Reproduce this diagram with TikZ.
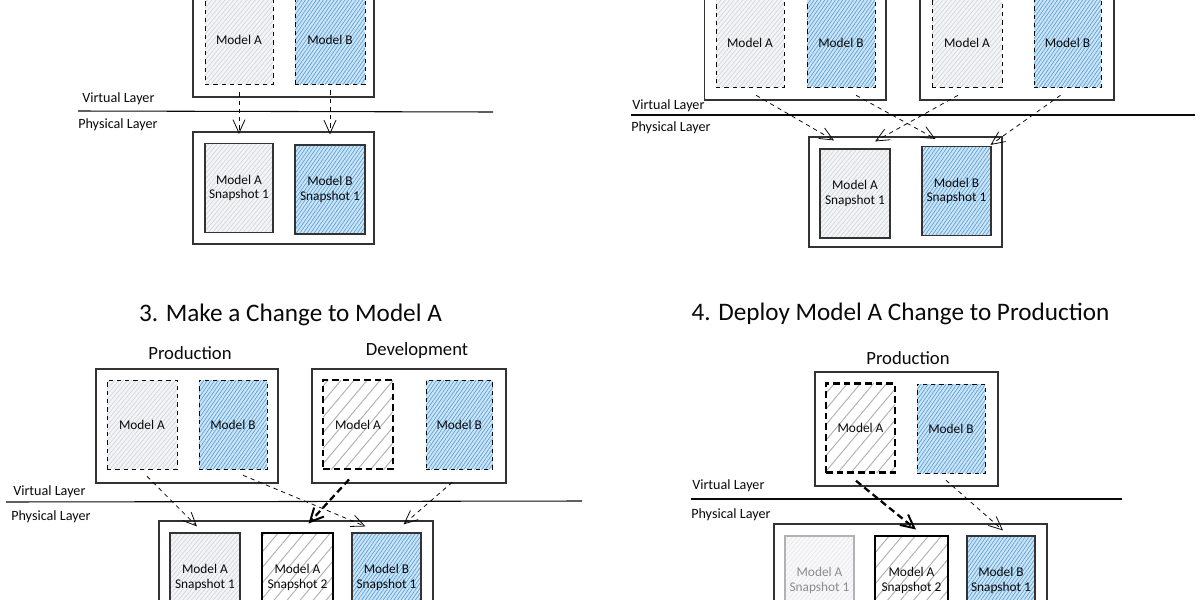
\documentclass[tikz,border=0pt]{standalone}
\usepackage{fontspec}
\setmainfont{Carlito}
\usetikzlibrary{arrows.meta,patterns.meta}
\definecolor{ink}{HTML}{0A0A0A}
\definecolor{edge}{HTML}{333333}
\definecolor{grayfill}{HTML}{F3F4F6}
\definecolor{grayhatch}{HTML}{CDD1D6}
\definecolor{bluefill}{HTML}{CFE5F6}
\definecolor{bluehatch}{HTML}{5AA5DE}
\definecolor{sparsehatch}{HTML}{B0B0B0}
\tikzset{
  x=0.75pt,y=-0.75pt,
  envbox/.style={draw=edge,line width=0.8pt,minimum width=#1*0.75pt,minimum height=85.5pt,inner sep=0pt},
  model/.style={minimum width=#1*0.75pt,minimum height=66.75pt,inner sep=0pt,align=center,text=ink,font=\fontsize{10}{11}\selectfont},
  grayhatchbox/.style={preaction={fill=grayfill},pattern={Lines[angle=50,distance=2.5pt,line width=0.4pt]},pattern color=grayhatch},
  bluehatchbox/.style={preaction={fill=bluefill},pattern={Lines[angle=55,distance=2.2pt,line width=0.55pt]},pattern color=bluehatch},
  sparsebox/.style={pattern={Lines[angle=50,distance=7.5pt,line width=0.7pt]},pattern color=sparsehatch},
  virt/.style={postaction={draw=ink,dash pattern=on 3.2pt off 3pt,line width=0.6pt}},
  virtbold/.style={postaction={draw=black,dash pattern=on 5pt off 3pt,line width=2pt}},
  snap/.style={draw=edge,line width=0.85pt},
  snapbold/.style={draw=black,line width=2.2pt},
  layerline/.style={draw=ink,line width=0.8pt},
  layertext/.style={font=\fontsize{10.6}{12}\selectfont,text=ink,anchor=west,inner sep=0pt},
  heading/.style={font=\fontsize{14}{16}\selectfont,text=ink,inner sep=0pt},
  title/.style={font=\fontsize{18.9}{21}\selectfont,text=ink,inner sep=0pt},
  link/.style={draw=ink,line width=0.6pt,dash pattern=on 3.2pt off 3pt,-{Straight Barb[length=10pt,width=9pt,line width=0.6pt]}},
  linkbold/.style={draw=black,line width=1.7pt,dash pattern=on 5pt off 3pt,-{Straight Barb[length=10pt,width=10pt,line width=1.5pt]}},
}
\begin{document}
\begin{tikzpicture}
\useasboundingbox (0,0) rectangle (1200,600);
\clip (0,0) rectangle (1200,600);
\fill[white] (0,0) rectangle (1200,600);

% Panel 1
\node[envbox=181] (p1v) at (283.5,40) {};
\node[model=68,grayhatchbox,virt] (p1a) at (239,39.5) {Model A};
\node[model=70,bluehatchbox,virt] (p1b) at (330,39.5) {Model B};
\node[layertext] (p1vl) at (82,98.5) {Virtual Layer};
\node[layertext] (p1pl) at (78,124.5) {Physical Layer};
\coordinate (p1l0) at (78,111); \coordinate (p1l1) at (493,112);
\draw[layerline] (p1l0) -- (p1l1);
\node[envbox=181,minimum height=84pt] (p1p) at (283.5,188) {};
\node[model=68,grayhatchbox,snap] (p1sa) at (239,188) {Model A\\Snapshot 1};
\node[model=70,bluehatchbox,snap] (p1sb) at (330,189.5) {Model B\\Snapshot 1};
\draw[link] ([shift={(0,8)}]p1a.south) -- ([shift={(0,-9)}]p1sa.north);
\draw[link] ([shift={(0,6)}]p1b.south) -- ([shift={(0,-10)}]p1sb.north);

% Panel 2
\node[envbox=181.5] (p2v1) at (795.25,43) {};
\node[envbox=194] (p2v2) at (1017,43) {};
\node[model=68,grayhatchbox,virt] (p2a1) at (750,42.5) {Model A};
\node[model=68,bluehatchbox,virt] (p2b1) at (841,42.5) {Model B};
\node[model=70,grayhatchbox,virt] (p2a2) at (967,42.5) {Model A};
\node[model=67,bluehatchbox,virt] (p2b2) at (1067.5,42.5) {Model B};
\node[layertext] (p2vl) at (632,105.5) {Virtual Layer};
\node[layertext] (p2pl) at (631,127.5) {Physical Layer};
\coordinate (p2l0) at (631,115); \coordinate (p2l1) at (1195,115);
\draw[layerline] (p2l0) -- (p2l1);
\node[envbox=193,minimum height=82.5pt] (p2p) at (905.5,192) {};
\node[model=70,grayhatchbox,snap] (p2sa) at (855,193.5) {Model A\\Snapshot 1};
\node[model=69,bluehatchbox,snap] (p2sb) at (956.5,191) {Model B\\Snapshot 1};
\draw[link] ([shift={(6,8)}]p2a1.south) -- ([shift={(-21,-8)}]p2sa.north);
\draw[link] ([shift={(15,8)}]p2b1.south) -- ([shift={(-21,-7)}]p2sb.north);
\draw[link] ([shift={(-9,8)}]p2a2.south) -- ([shift={(20,-7)}]p2sa.north);
\draw[link] ([shift={(-7,8)}]p2b2.south) -- ([shift={(34,-1)}]p2sb.north);

% Panel 3
\node[title] (p3t) at (290.5,315) {3. Make a Change to Model A};
\node[heading] (p3h1) at (190,353) {Production};
\node[heading] (p3h2) at (417,351) {Development};
\node[envbox=182] (p3v1) at (187,426) {};
\node[envbox=194] (p3v2) at (409,426) {};
\node[model=70,grayhatchbox,virt] (p3a1) at (142,424.5) {Model A};
\node[model=68,bluehatchbox,virt] (p3b1) at (233,424.5) {Model B};
\node[model=70,sparsebox,virtbold] (p3a2) at (358,424.5) {Model A};
\node[model=66.5,bluehatchbox,virt] (p3b2) at (459.25,424.5) {Model B};
\node[layertext] (p3vl) at (13,491.5) {Virtual Layer};
\node[layertext] (p3pl) at (11,516.5) {Physical Layer};
\coordinate (p3l0) at (6,502); \coordinate (p3l1) at (582,501);
\draw[layerline] (p3l0) -- (p3l1);
\node[envbox=274] (p3p) at (296,578) {};
\node[model=70,grayhatchbox,snap] (p3sa) at (205,577.5) {Model A\\Snapshot 1};
\node[model=71,sparsebox,snapbold] (p3sc) at (297.5,577.5) {Model A\\Snapshot 2};
\node[model=69,bluehatchbox,snap] (p3sb) at (386.5,577.5) {Model B\\Snapshot 1};
\draw[link] ([shift={(5,7)}]p3a1.south) -- ([shift={(-8,-6)}]p3sa.north);
\draw[link] ([shift={(10,6)}]p3b1.south) -- ([shift={(-21,-6)}]p3sb.north);
\draw[linkbold] ([shift={(-9,10)}]p3a2.south) -- ([shift={(11,-8)}]p3sc.north);
\draw[link] ([shift={(-7,13)}]p3b2.south) -- ([shift={(17,-8)}]p3sb.north);

% Panel 4
\node[title] (p4t) at (900.5,314) {4. Deploy Model A Change to Production};
\node[heading] (p4h) at (908,358) {Production};
\node[envbox=183] (p4v) at (906.5,429) {};
\node[model=69,sparsebox,virtbold] (p4a) at (860.5,428) {Model A};
\node[model=68,bluehatchbox,virt] (p4b) at (951,428.5) {Model B};
\node[layertext] (p4vl) at (692,485.5) {Virtual Layer};
\node[layertext] (p4pl) at (691,514.5) {Physical Layer};
\coordinate (p4l0) at (691,499); \coordinate (p4l1) at (1122,499);
\draw[layerline] (p4l0) -- (p4l1);
\node[envbox=273] (p4p) at (910.5,581) {};
\node[model=69,preaction={fill=grayfill!60},pattern={Lines[angle=50,distance=2.5pt,line width=0.3pt]},pattern color=grayhatch!60,draw=black!30,line width=0.85pt,text=black!45] (p4sa) at (819.5,580.5) {Model A\\Snapshot 1};
\node[model=73,sparsebox,snapbold] (p4sc) at (911.5,580.5) {Model A\\Snapshot 2};
\node[model=68,bluehatchbox,snap] (p4sb) at (1001,580.5) {Model B\\Snapshot 1};
\draw[linkbold] ([shift={(-4.5,8)}]p4a.south) -- ([shift={(4.5,-5)}]p4sc.north);
\draw[link] ([shift={(-5,7)}]p4b.south) -- ([shift={(2,-5)}]p4sb.north);
\end{tikzpicture}
\end{document}
